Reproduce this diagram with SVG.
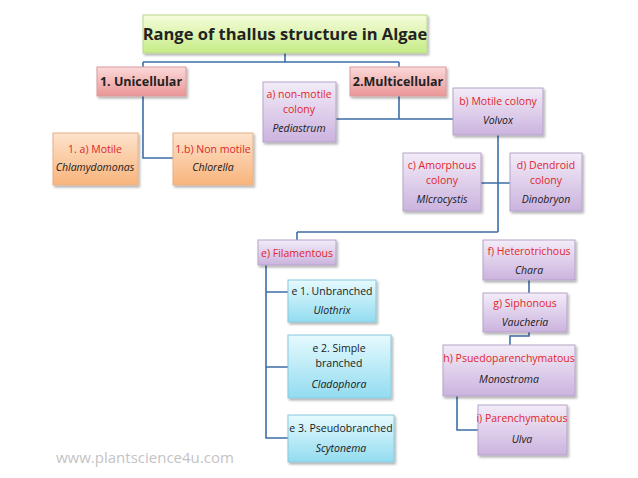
<svg xmlns="http://www.w3.org/2000/svg" width="638" height="478" viewBox="0 0 638 478">
<defs>
<linearGradient id="gG" x1="0" y1="0" x2="0" y2="1"><stop offset="0" stop-color="#f6fcdc"/><stop offset="1" stop-color="#c5ec86"/></linearGradient>
<linearGradient id="gP" x1="0" y1="0" x2="0" y2="1"><stop offset="0" stop-color="#fbd9d9"/><stop offset="1" stop-color="#eb9696"/></linearGradient>
<linearGradient id="gO" x1="0" y1="0" x2="0" y2="1"><stop offset="0" stop-color="#fde3cc"/><stop offset="1" stop-color="#f8b47c"/></linearGradient>
<linearGradient id="gV" x1="0" y1="0" x2="0" y2="1"><stop offset="0" stop-color="#f3ecf8"/><stop offset="1" stop-color="#cbb3de"/></linearGradient>
<linearGradient id="gC" x1="0" y1="0" x2="0" y2="1"><stop offset="0" stop-color="#e6fafe"/><stop offset="1" stop-color="#92dcf0"/></linearGradient>
<filter id="sh" x="-10%" y="-10%" width="130%" height="140%"><feDropShadow dx="1.5" dy="2" stdDeviation="1.2" flood-color="#000" flood-opacity="0.3"/></filter>
<style>
rect{stroke-width:1;filter:url(#sh)}
.g{fill:url(#gG);stroke:#b8d88a}
.p{fill:url(#gP);stroke:#d99a9a}
.o{fill:url(#gO);stroke:#e8b088}
.v{fill:url(#gV);stroke:#b6a3c8}
.c{fill:url(#gC);stroke:#88c8dc}
text{font-family:"Open Sans","Liberation Sans",sans-serif;font-size:10.5px;text-anchor:middle}
.r{fill:#e0262a}
.i{font-style:italic;fill:#1a1a1a}
.k{fill:#1a1a1a}
.h{font-weight:bold;font-size:12.5px;fill:#222}
.t{font-weight:bold;font-size:16.5px;fill:#222}
#conn path{fill:none;stroke:#3d6ea8;stroke-width:1.6}
</style>
</defs>
<rect width="638" height="478" fill="#fff" style="filter:none"/>
<g id="conn">
<path d="M285 53V62M143 62H399M143 62V67M399 62V67"/>
<path d="M143 96V158H173"/>
<path d="M399 96V119M336 119H453"/>
<path d="M498 135V232M481 183H510"/>
<path d="M297 232H498M297 232V240"/>
<path d="M266 265V438H288M266 292H288M266 367H288"/>
<path d="M529 280V293M529 332V336H510V345"/>
<path d="M457 396V430H478"/>
</g>
<g id="title"><rect class="g" x="143" y="15" width="284" height="38"/><text class="t" x="285" y="40">Range of thallus structure in Algae</text></g>
<g id="uni"><rect class="p" x="97" y="67" width="89" height="29"/><text class="h" x="141" y="86">1. Unicellular</text></g>
<g id="multi"><rect class="p" x="350" y="67" width="96" height="29"/><text class="h" x="398" y="86">2.Multicellular</text></g>
<g id="motile"><rect class="o" x="53" y="133" width="85" height="52"/><text class="r" x="95" y="153">1. a) Motile</text><text class="i" x="95" y="171">Chlamydomonas</text></g>
<g id="nonmotile"><rect class="o" x="173" y="133" width="80" height="52"/><text class="r" x="213" y="153">1.b) Non motile</text><text class="i" x="213" y="171">Chlorella</text></g>
<g id="nmcolony"><rect class="v" x="263" y="82" width="73" height="60"/><text class="r" x="299" y="98">a) non-motile</text><text class="r" x="299" y="113">colony</text><text class="i" x="299" y="132">Pediastrum</text></g>
<g id="mcolony"><rect class="v" x="453" y="88" width="90" height="47"/><text class="r" x="498" y="105">b) Motile colony</text><text class="i" x="498" y="124">Volvox</text></g>
<g id="amorph"><rect class="v" x="403" y="153" width="78" height="58"/><text class="r" x="442" y="169">c) Amorphous</text><text class="r" x="442" y="184">colony</text><text class="i" x="442" y="203">MIcrocystis</text></g>
<g id="dendroid"><rect class="v" x="510" y="153" width="72" height="58"/><text class="r" x="546" y="169">d) Dendroid</text><text class="r" x="546" y="184">colony</text><text class="i" x="546" y="203">Dinobryon</text></g>
<g id="fil"><rect class="v" x="258" y="240" width="78" height="25"/><text class="r" x="297" y="257">e) Filamentous</text></g>
<g id="e1"><rect class="c" x="288" y="280" width="88" height="42"/><text class="k" x="332" y="295">e 1. Unbranched</text><text class="i" x="332" y="314">Ulothrix</text></g>
<g id="e2"><rect class="c" x="288" y="335" width="103" height="63"/><text class="k" x="339" y="352">e 2. Simple</text><text class="k" x="339" y="367">branched</text><text class="i" x="339" y="388">Cladophora</text></g>
<g id="e3"><rect class="c" x="288" y="415" width="106" height="47"/><text class="k" x="341" y="432">e 3. Pseudobranched</text><text class="i" x="341" y="452">Scytonema</text></g>
<g id="het"><rect class="v" x="483" y="240" width="92" height="40"/><text class="r" x="529" y="255">f) Heterotrichous</text><text class="i" x="529" y="274">Chara</text></g>
<g id="siph"><rect class="v" x="483" y="293" width="84" height="39"/><text class="r" x="525" y="307">g) Siphonous</text><text class="i" x="525" y="326">Vaucheria</text></g>
<g id="pseudo"><rect class="v" x="443" y="345" width="132" height="51"/><text class="r" x="509" y="362">h) Psuedoparenchymatous</text><text class="i" x="509" y="383">Monostroma</text></g>
<g id="paren"><rect class="v" x="478" y="405" width="89" height="50"/><text class="r" x="522" y="422">i) Parenchymatous</text><text class="i" x="522" y="443">Ulva</text></g>
<text x="56" y="463" style="font-size:15px;fill:#c4c4c4;text-anchor:start">www.plantscience4u.com</text>
</svg>
